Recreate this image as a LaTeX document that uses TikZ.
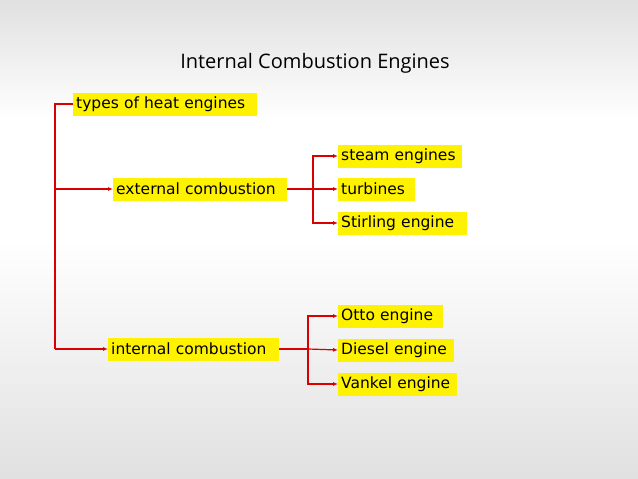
\documentclass[tikz,border=0pt]{standalone}
\usepackage{fontspec}
\setmainfont{DejaVu Sans}
\newfontfamily\titlefont{Open Sans}
\usetikzlibrary{arrows.meta}
\begin{document}
\begin{tikzpicture}[x=1pt,y=-1pt,
  lab/.style={fill=yellow,inner xsep=3pt,inner ysep=0pt,anchor=west,minimum height=23pt,align=left,font=\fontsize{15.5}{17}\selectfont},
  conn/.style={draw=red!85!black,line width=1.2pt},
  arr/.style={conn,-{Latex[length=5pt,width=4pt]}}]
\shade[top color=black!12,bottom color=white,middle color=white] (0,0) rectangle (638,240);
\shade[top color=white,bottom color=black!12] (0,240) rectangle (638,479);
\useasboundingbox (0,0) rectangle (638,479);
\node[font=\titlefont\fontsize{20}{22}\selectfont] (title) at (315,63) {Internal Combustion Engines};
\node[lab,text width=178pt] (types) at (73,104) {types of heat engines};
\node[lab,text width=168pt] (ext) at (113,189) {external combustion};
\node[lab,text width=165pt] (int) at (108,349) {internal combustion};
\node[lab,text width=118pt] (s1) at (338,156) {steam engines};
\node[lab,text width=71pt] (s2) at (338,189) {turbines};
\node[lab,text width=123pt] (s3) at (338,223) {Stirling engine};
\node[lab,text width=99pt] (o1) at (338,316) {Otto engine};
\node[lab,text width=110pt] (o2) at (338,350) {Diesel engine};
\node[lab,text width=113pt] (o3) at (338,384) {Vankel engine};
\coordinate (lt) at (55,104);
\coordinate (lb) at (55,349);
\draw[conn] (types.west) -- (lt) -- (lb);
\draw[arr] (lb) -- (int.west);
\draw[arr] (55,189) -- (ext.west);
\coordinate (be) at (313,189);
\draw[conn] (ext.east) -- (be);
\draw[arr] (be) |- (s1.west);
\draw[arr] (be) -- (s2.west);
\draw[arr] (be) |- (s3.west);
\coordinate (bi) at (308,349);
\draw[conn] (int.east) -- (bi);
\draw[arr] (bi) |- (o1.west);
\draw[arr] (bi) -- (o2.west);
\draw[arr] (bi) |- (o3.west);
\end{tikzpicture}
\end{document}
